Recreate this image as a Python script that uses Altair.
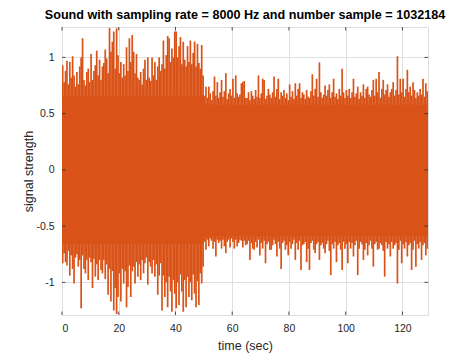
import altair as alt
import pandas as pd

# ---- data (0.5 s bins: max and min of the signal) ----
BIN = 0.5
hi = [
    0.93, 0.78, 0.88, 0.97, 0.76, 0.96, 0.82, 1.01, 0.84, 0.74,
    0.87, 0.76, 0.92, 1.00, 1.17, 0.80, 0.75, 0.87, 0.90, 0.78,
    1.03, 0.80, 0.88, 0.93, 1.06, 0.84, 0.98, 0.80, 0.92, 0.95,
    1.07, 0.99, 0.86, 1.26, 1.05, 1.14, 1.23, 0.90, 1.26, 1.02,
    0.86, 0.96, 0.82, 0.94, 0.84, 1.09, 0.88, 1.17, 0.96, 1.20,
    1.05, 0.86, 1.03, 0.82, 0.80, 0.87, 0.76, 0.90, 0.98, 0.80,
    1.00, 0.82, 0.79, 1.00, 0.84, 0.96, 0.80, 0.92, 1.00, 0.88,
    0.94, 1.15, 0.90, 1.02, 1.19, 1.17, 0.96, 1.08, 1.00, 1.23,
    1.23, 1.00, 1.10, 1.18, 0.94, 1.14, 0.98, 0.92, 1.10, 0.96,
    1.15, 0.94, 1.04, 1.14, 0.92, 1.12, 0.95, 0.90, 1.11, 0.84,
    0.66, 0.74, 0.64, 0.74, 0.68, 0.62, 0.70, 0.83, 0.66, 0.78,
    0.64, 0.69, 0.80, 0.65, 0.70, 0.86, 0.63, 0.68, 0.72, 0.66,
    0.81, 0.64, 0.84, 0.68, 0.65, 0.67, 0.77, 0.78, 0.79, 0.64,
    0.64, 0.69, 0.62, 0.70, 0.66, 0.63, 0.71, 0.65, 0.84, 0.64,
    0.68, 0.81, 0.80, 0.63, 0.66, 0.72, 0.67, 0.64, 0.69, 0.83,
    0.65, 0.72, 0.81, 0.63, 0.69, 0.66, 0.71, 0.64, 0.68, 0.62,
    0.76, 0.65, 0.70, 0.63, 0.77, 0.66, 0.72, 0.77, 0.64, 0.69,
    0.67, 0.63, 0.71, 0.65, 0.64, 0.70, 0.85, 0.66, 0.72, 0.81,
    0.65, 0.956, 0.69, 0.64, 0.67, 0.75, 0.66, 0.71, 0.76, 0.64,
    0.69, 0.81, 0.65, 0.68, 0.63, 0.72, 0.66, 0.90, 0.69, 0.64,
    0.71, 0.66, 0.72, 0.64, 0.69, 0.81, 0.65, 0.68, 0.74, 0.63,
    0.69, 0.66, 0.76, 0.64, 0.72, 0.74, 0.67, 0.65, 0.71, 0.80,
    0.66, 0.81, 0.69, 0.87, 0.64, 0.72, 0.80, 0.67, 0.71, 0.76,
    0.65, 0.69, 0.72, 0.78, 0.66, 0.71, 1.01, 0.67, 0.81, 0.69,
    0.81, 0.65, 0.72, 0.89, 0.69, 0.74, 0.66, 0.78, 0.71, 0.64,
    0.69, 0.66, 0.72, 0.67, 0.81, 0.65, 0.77, 0.70,
]
lo = [
    -0.83, -0.74, -0.82, -0.85, -0.72, -0.94, -0.76, -0.88, -1.01, -0.78,
    -0.75, -0.86, -0.80, -1.23, -0.76, -0.88, -0.92, -0.80, -0.98, -0.78,
    -0.82, -1.05, -0.79, -0.95, -0.84, -0.98, -0.80, -0.89, -0.92, -0.80,
    -0.97, -0.84, -1.11, -0.88, -1.17, -0.90, -1.25, -1.05, -1.28, -1.13,
    -0.92, -1.17, -0.88, -1.01, -0.90, -1.22, -1.04, -0.85, -1.13, -0.90,
    -0.86, -1.01, -0.82, -0.95, -0.84, -0.98, -0.80, -0.92, -0.83, -0.78,
    -1.02, -0.82, -0.86, -0.92, -0.80, -0.95, -0.84, -1.11, -0.94, -0.83,
    -1.25, -0.94, -1.13, -1.00, -1.22, -0.95, -1.08, -1.26, -0.98, -1.10,
    -1.23, -1.00, -1.20, -0.93, -1.08, -1.26, -0.98, -1.22, -0.95, -1.13,
    -1.00, -1.16, -0.93, -1.10, -1.22, -0.99, -1.20, -0.92, -1.01, -0.86,
    -0.64, -0.71, -0.62, -0.68, -0.61, -0.63, -0.70, -0.64, -0.77, -0.62,
    -0.65, -0.63, -0.70, -0.62, -0.68, -0.74, -0.64, -0.62, -0.69, -0.61,
    -0.64, -0.70, -0.62, -0.68, -0.65, -0.62, -0.63, -0.69, -0.63, -0.67,
    -0.66, -0.63, -0.80, -0.65, -0.70, -0.71, -0.64, -0.69, -0.62, -0.76,
    -0.65, -0.70, -0.63, -0.83, -0.66, -0.64, -0.71, -0.71, -0.67, -0.62,
    -0.66, -0.77, -0.64, -0.70, -0.88, -0.65, -0.63, -0.71, -0.67, -0.76,
    -0.64, -0.70, -0.66, -0.62, -0.80, -0.65, -0.71, -0.63, -0.89, -0.67,
    -0.66, -0.64, -0.82, -0.70, -0.89, -0.65, -0.63, -0.71, -0.74, -0.66,
    -0.64, -0.80, -0.67, -0.65, -0.70, -0.74, -0.66, -0.63, -0.72, -0.935,
    -0.66, -0.70, -0.64, -0.82, -0.67, -0.65, -0.71, -0.89, -0.64, -0.70,
    -0.66, -0.83, -0.64, -0.70, -0.65, -0.77, -0.67, -0.63, -0.935, -0.70,
    -0.64, -0.66, -0.80, -0.71, -0.65, -0.76, -0.67, -0.63, -0.70, -0.86,
    -0.66, -0.64, -0.71, -0.70, -0.65, -0.67, -0.72, -0.95, -0.64, -0.70,
    -0.66, -0.77, -0.64, -0.70, -0.67, -0.65, -1.01, -0.71, -0.63, -0.83,
    -0.66, -0.70, -0.64, -0.77, -0.67, -0.65, -0.89, -0.71, -0.63, -0.86,
    -0.66, -0.70, -0.64, -0.80, -0.67, -0.65, -0.76, -0.70,
]
# dense (solid) core of the waveform
core_t = [0, 49.8, 49.9, 129.02]
core_hi = [0.66, 0.66, 0.58, 0.58]
core_lo = [-0.66, -0.66, -0.59, -0.59]

x_ticks = [0, 20, 40, 60, 80, 100, 120]
y_ticks = [-1, -0.5, 0, 0.5, 1]
T_END = 1032184 / 8000
Y_MIN, Y_MAX = -1.29, 1.27

W, H = 366, 288
ORANGE = "#D95319"
INK = "#262626"
FONT = "Liberation Sans"

bins = pd.DataFrame({"t": [BIN * i + BIN / 2 for i in range(len(hi))], "hi": hi, "lo": lo})
core = pd.DataFrame({"t": core_t, "hi": core_hi, "lo": core_lo})
xt = pd.DataFrame({"v": x_ticks})
yt = pd.DataFrame({"v": y_ticks})

xscale = alt.Scale(domain=[0, T_END], nice=False, zero=False)
yscale = alt.Scale(domain=[Y_MIN, Y_MAX], nice=False, zero=False)

xaxis = alt.Axis(values=x_ticks, title="time (sec)", grid=True, ticks=False, tickSize=0,
                 domain=False, labelPadding=8, labelFontSize=10.5, labelColor=INK,
                 labelFont=FONT, titleFont=FONT, titleFontSize=12.5, titleFontWeight="normal",
                 titleColor=INK, titleX=W / 2, titleY=30, titleBaseline="middle",
                 titleAlign="center", gridColor="#DFDFDF", gridWidth=1)
yaxis = alt.Axis(values=y_ticks, title="signal strength", grid=True, ticks=False, tickSize=0,
                 domain=False, labelPadding=8, labelFontSize=10.5, labelColor=INK,
                 labelFont=FONT, titleFont=FONT, titleFontSize=12.5, titleFontWeight="normal",
                 titleColor=INK, titleX=-34, titleY=H / 2, titleAngle=270,
                 titleBaseline="middle", titleAlign="center", gridColor="#DFDFDF",
                 gridWidth=1, labelExpr="datum.value + ''")

spikes = alt.Chart(bins).mark_rule(color=ORANGE, strokeWidth=1.7, clip=True).encode(
    x=alt.X("t:Q", scale=xscale, axis=xaxis),
    y=alt.Y("lo:Q", scale=yscale, axis=yaxis),
    y2="hi:Q",
)
core_area = alt.Chart(core).mark_area(color=ORANGE, opacity=1, clip=True,
                                      interpolate="linear").encode(
    x=alt.X("t:Q", scale=xscale),
    y=alt.Y("lo:Q", scale=yscale),
    y2="hi:Q",
)
xtick_bot = alt.Chart(xt).mark_rule(color=INK, strokeWidth=0.8).encode(
    x=alt.X("v:Q", scale=xscale), y=alt.value(H), y2=alt.value(H - 3.5))
xtick_top = alt.Chart(xt).mark_rule(color=INK, strokeWidth=0.8).encode(
    x=alt.X("v:Q", scale=xscale), y=alt.value(0), y2=alt.value(3.5))
ytick_l = alt.Chart(yt).mark_rule(color=INK, strokeWidth=0.8).encode(
    y=alt.Y("v:Q", scale=yscale), x=alt.value(0), x2=alt.value(3.5))
ytick_r = alt.Chart(yt).mark_rule(color=INK, strokeWidth=0.8).encode(
    y=alt.Y("v:Q", scale=yscale), x=alt.value(W), x2=alt.value(W - 3.5))

chart = alt.layer(spikes, core_area, xtick_bot, xtick_top, ytick_l, ytick_r).properties(
    width=W, height=H,
    title=alt.TitleParams("Sound with sampling rate = 8000 Hz and number sample = 1032184",
                          font=FONT, fontSize=12.6, fontWeight="bold", color="#000000",
                          anchor="middle", offset=5),
    autosize=alt.AutoSizeParams(type="none"),
    padding={"left": 54, "top": 19, "right": 38, "bottom": 38},
).configure_view(stroke=INK, strokeWidth=1).configure(background="white")

chart.save("out.html", embed_options={"renderer": "svg", "actions": False})
